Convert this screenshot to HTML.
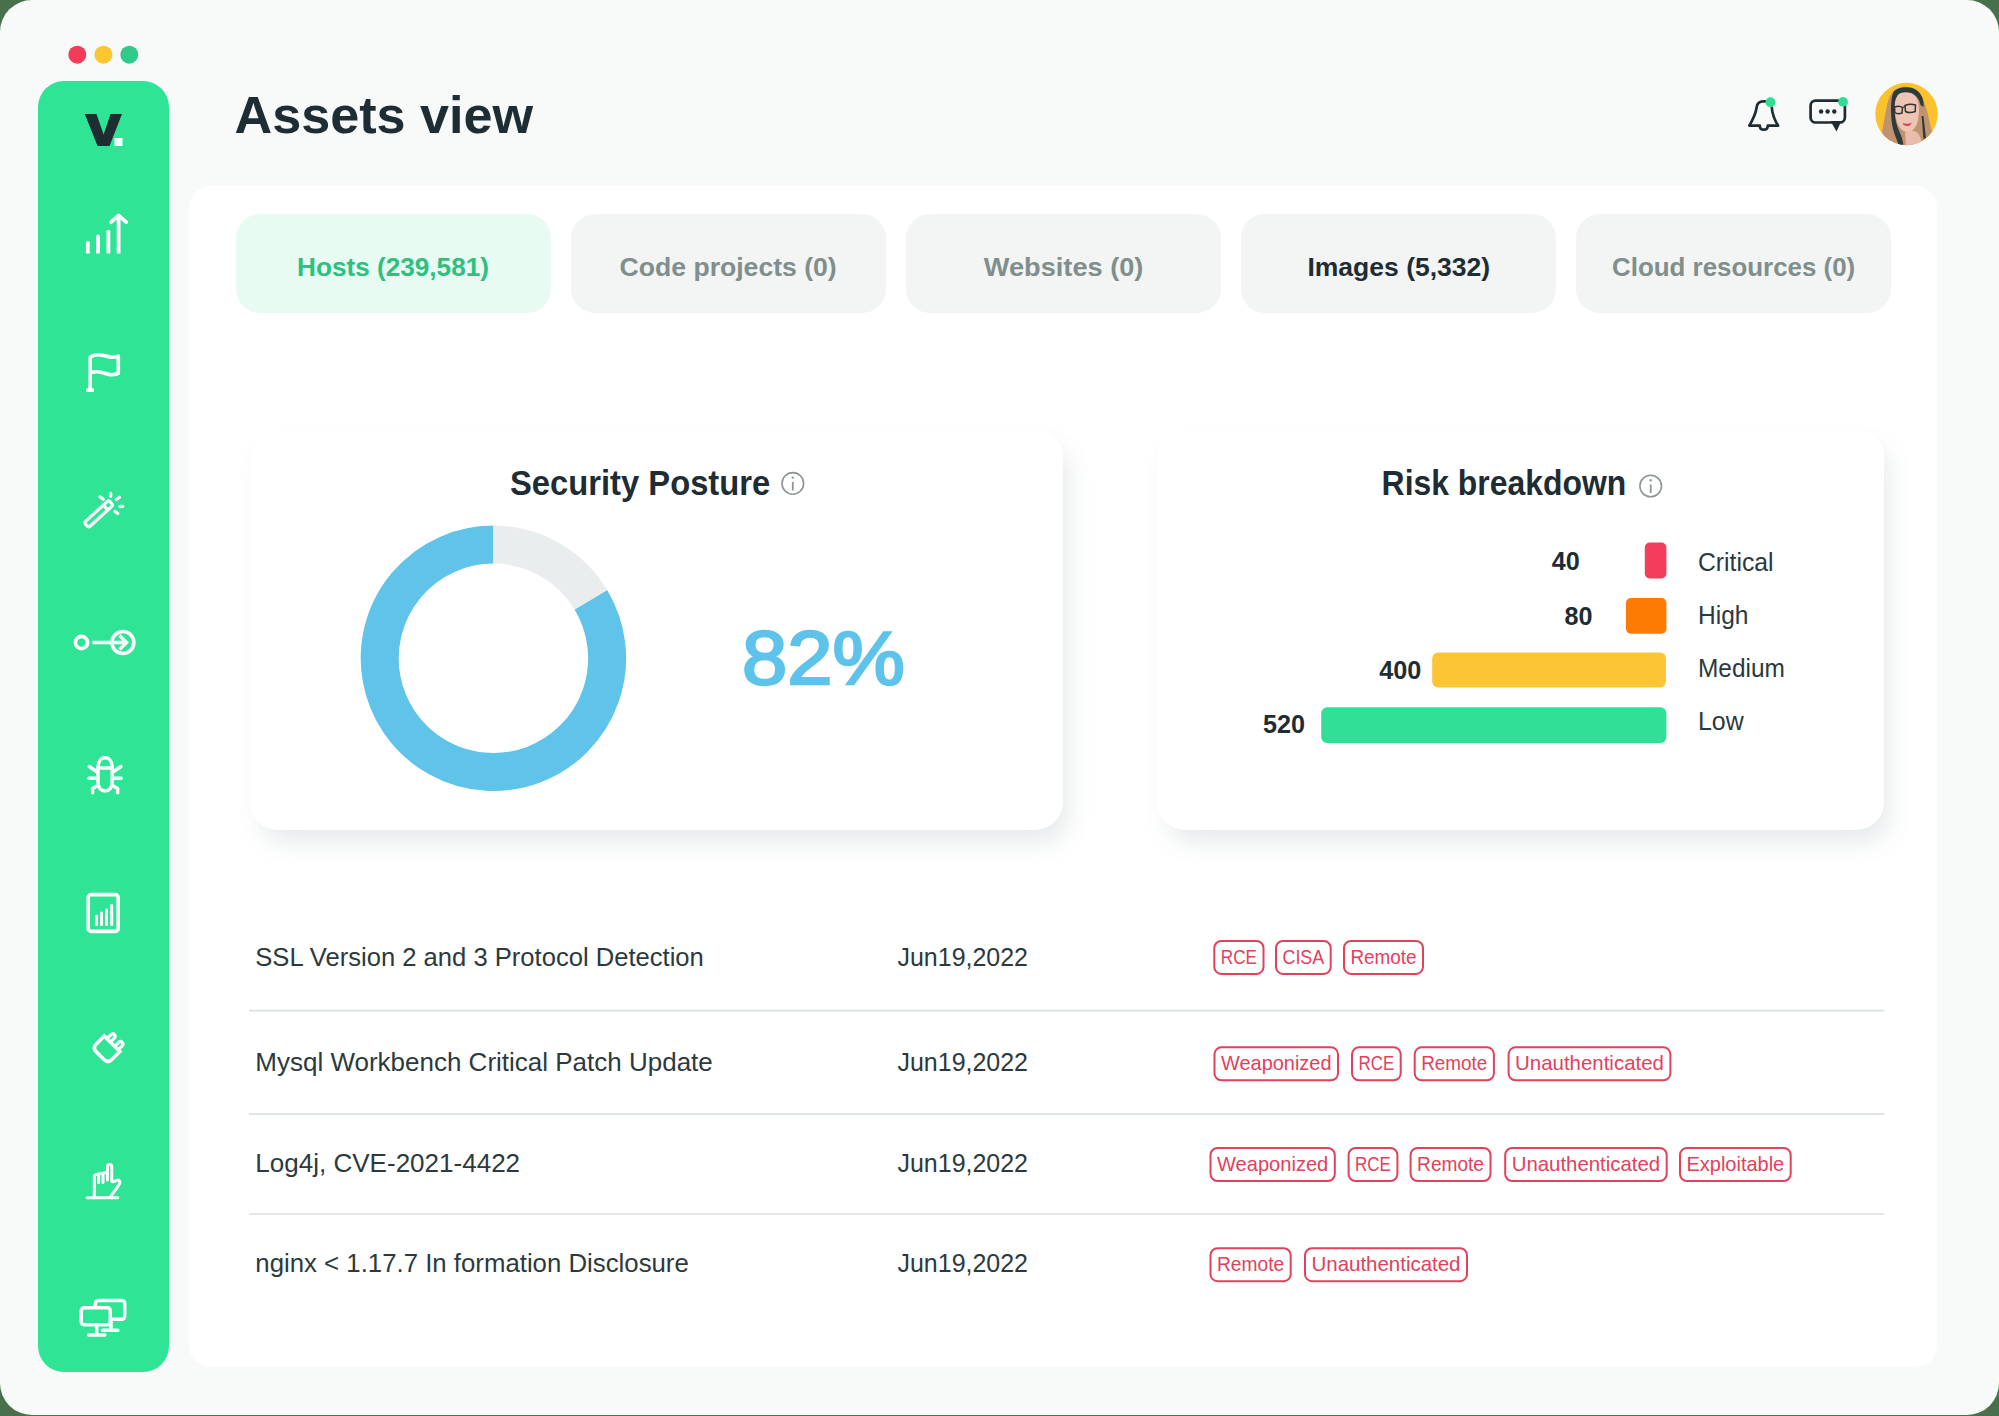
<!DOCTYPE html>
<html><head><meta charset="utf-8">
<style>
html,body{margin:0;padding:0;}
body{width:1999px;height:1416px;background:#48704a;position:relative;overflow:hidden;font-family:"Liberation Sans",sans-serif;}
.frame{position:absolute;left:0;top:0;width:1999px;height:1415px;border-radius:32px;background:#f8f9f9;overflow:hidden;}
.abs{position:absolute;}
.side{left:38px;top:81px;width:131px;height:1291px;border-radius:26px;background:#30e496;}
.panel{left:189px;top:186px;width:1748px;height:1181px;border-radius:22px;background:#ffffff;}
.tab{top:214px;width:315px;height:99px;border-radius:24px;background:#f3f4f4;}
.card{top:429px;height:401px;border-radius:28px;background:#fff;box-shadow:8px 15px 24px -3px rgba(60,90,100,0.13);}
.line{left:249px;width:1636px;height:2px;background:#e1e6e6;}
svg.ov{position:absolute;left:0;top:0;}
</style></head>
<body>
<div class="frame">
  <div class="abs side"></div>
  <div class="abs panel"></div>
  <div class="abs tab" style="left:236px;background:#e8fbf3;"></div>
  <div class="abs tab" style="left:571px;"></div>
  <div class="abs tab" style="left:906px;"></div>
  <div class="abs tab" style="left:1241px;"></div>
  <div class="abs tab" style="left:1576px;"></div>
  <div class="abs card" style="left:250px;width:813px;"></div>
  <div class="abs card" style="left:1157px;width:727px;"></div>
</div>
<svg class="ov" width="1999" height="1416" viewBox="0 0 1999 1416" font-family="Liberation Sans, sans-serif">
  <defs>
    <clipPath id="avc"><circle cx="1906.5" cy="114" r="31.2"/></clipPath>
  </defs>
  <!-- window dots -->
  <circle cx="77.3" cy="54.7" r="9" fill="#f43b5a"/>
  <circle cx="103.4" cy="54.7" r="9" fill="#fcc631"/>
  <circle cx="129.3" cy="54.7" r="9" fill="#2fcb8a"/>

  <!-- logo -->
  <path d="M84.8 114 L96.5 114 L103.6 134.5 L110.5 114 L122 114 L109.5 146 L97.5 146 Z" fill="#1f2d32"/>
  <rect x="114.5" y="138" width="8" height="8" fill="#ffffff"/>

  <!-- sidebar icons -->
  <g fill="none" stroke="#ffffff" stroke-width="3.8" stroke-linecap="round" stroke-linejoin="round">
    <!-- chart up -->
    <path d="M87.8 242.8 V253.6 M98 236.4 V253.6 M108.4 231.6 V253.6 M118.6 216 V253.6" stroke-linecap="butt"/>
    <path d="M87.8 242.8 V243 M98 236.4 V236.6 M108.4 231.6 V231.8"/>
    <path d="M111 222.2 L118.6 215.4 L126.2 222.2"/>
    <!-- flag -->
    <path d="M90.2 390 V357 C94 354.8 98 354.4 102 355.2 C106 356 110 357.4 113 357.2 C115 357 116.5 356.6 118.3 356.2 V373.6 C115.5 374.4 113 375 110 374.6 C106 374 102 372 98 371.8 C95 371.6 92.5 372.2 90.2 372.8" stroke-width="3.6"/>
    <path d="M86.2 390.2 H94" stroke-width="3.6" stroke-linecap="butt"/>
    <!-- wand -->
    <g transform="translate(98.65 513.9) rotate(-42.3)" stroke-width="3.2">
      <rect x="-16.6" y="-3.3" width="33.2" height="6.6" rx="2.2"/>
      <path d="M9.4 -3.1 V3.1"/>
    </g>
    <path d="M110.7 493.4 V496.2 M100 496.8 L103.2 499.3 M116.3 499.5 L119.5 497.3 M120 506.3 H122.8 M114.9 511.5 L117.7 513.5" stroke-width="3.2"/>
    <!-- circle arrow -->
    <circle cx="81.5" cy="642.5" r="6.1" stroke-width="3.6"/>
    <circle cx="122.9" cy="642.5" r="11" stroke-width="3.6"/>
    <path d="M92.5 642.5 H126" stroke-width="3.4" stroke-linecap="butt"/>
    <path d="M119.4 635.4 L126.6 642.5 L119.4 649.6" stroke-width="3.4" stroke-linejoin="miter" stroke-linecap="butt"/>
    <!-- bug -->
    <g stroke-width="3.5">
      <path d="M98 768 V782 C98 787.8 101 791 105.1 791 C109.2 791 112.2 787.8 112.2 782 V768 Z"/>
      <path d="M98 768 C98 761.5 101 757.8 105.1 757.8 C109.2 757.8 112.2 761.5 112.2 768"/>
      <path d="M89.2 766.5 L96.5 771.5 M121 766.5 L113.7 771.5 M89 778.3 H97 M113.2 778.3 H121.2 M96.8 786 L92.6 788.5 V792.8 M113.4 786 L117.6 788.5 V792.8"/>
    </g>
    <!-- report -->
    <rect x="88.2" y="894.6" width="30" height="36.8" rx="2.8" stroke-width="3.6"/>
    <path d="M96.5 915.9 V924.4 M101.5 913.1 V924.4 M106.5 910.1 V924.4 M111.7 905.2 V924.4" stroke-width="3"/>
    <!-- plug -->
    <g transform="translate(106.35 1049.75) rotate(45)" stroke-linejoin="miter">
      <path d="M-11.2 -8.2 H10.8 V3 Q10.8 8.6 5.2 8.6 H-5.6 Q-11.2 8.6 -11.2 3 Z" stroke-width="3.6"/>
      <path d="M-7.4 -8.2 V-14 A2.4 2.4 0 0 1 -2.6 -14 V-8.2 M3.6 -8.2 V-14 A2.4 2.4 0 0 1 8.4 -14 V-8.2" stroke-width="3.2" stroke-linejoin="round" stroke-linecap="butt"/>
      <path d="M-2.6 -8.2 H3.6" stroke="#30e496" stroke-width="0"/>
    </g>
    <!-- hand -->
    <g stroke-width="3">
      <path d="M87.2 1197.8 H117.8"/>
      <path d="M94.3 1197.8 V1176.6 C94.3 1175 95.2 1174.6 96.2 1174.4 L106.5 1172.4"/>
      <path d="M98.6 1175 V1182.6 M103 1173.8 V1182.6 M107.4 1180 V1167 C107.4 1165.6 108.4 1164.6 109.6 1164.6 C110.8 1164.6 111.8 1165.6 111.8 1167 V1181.4 C113.5 1182.6 115 1181.5 116.5 1180.4 C118.5 1179.3 120.6 1181 119.8 1183.2 C118 1186.5 113.8 1192 110.6 1196.5"/>
    </g>
    <!-- monitors -->
    <g stroke-width="3.5">
      <rect x="95.4" y="1300.4" width="29.3" height="18.9" rx="3"/>
      <rect x="81.2" y="1307.8" width="29.1" height="17" rx="3" fill="#30e496"/>
      <path d="M96.7 1326 V1335.1 M88.6 1335.1 H104.8 M111 1321 V1330.2 M102.6 1330.2 H117.9"/>
    </g>
  </g>

  <!-- title -->
  <text x="234.5" y="132.6" font-size="52" font-weight="bold" fill="#1e2d33" textLength="298.5" lengthAdjust="spacingAndGlyphs">Assets view</text>

  <!-- top right icons -->
  <g fill="none" stroke="#1f2d32" stroke-width="2.7" stroke-linejoin="round" stroke-linecap="round">
    <path d="M1766 101.4 H1763.2 C1759.6 101.4 1757.3 103.3 1756.7 107 C1756 112 1754.6 116.8 1749.3 125.7 H1759.8 C1759.8 128.4 1761.5 129.6 1763.8 129.6 C1766.1 129.6 1767.8 128.4 1767.8 125.7 H1778.1 C1773.8 118.8 1772.2 113.5 1771.8 107.5"/>
    <path d="M1831.8 122.5 H1815.6 C1812.8 122.5 1810.6 120.3 1810.6 117.5 V105.6 C1810.6 102.8 1812.8 100.6 1815.6 100.6 H1839.9 C1842.7 100.6 1844.9 102.8 1844.9 105.6 V117.5 C1844.9 120.3 1842.7 122.5 1839.9 122.5"/>
  </g>
  <path d="M1830.6 121.1 L1841.4 121.1 L1836.5 131.6 Z" fill="#1f2d32"/>
  <circle cx="1821.1" cy="111.5" r="2.2" fill="#1f2d32"/>
  <circle cx="1827.6" cy="111.5" r="2.2" fill="#1f2d32"/>
  <circle cx="1834.3" cy="111.5" r="2.2" fill="#1f2d32"/>
  <circle cx="1770.4" cy="102.2" r="4.9" fill="#30de93"/>
  <circle cx="1843" cy="101.9" r="4.9" fill="#30de93"/>

  <!-- avatar -->
  <g clip-path="url(#avc)">
    <rect x="1870" y="78" width="75" height="72" fill="#fbc22e"/>
    <path d="M1892 93 C1896 88 1901 86.5 1906 86.8 C1913 87.2 1919 91 1922 97 C1925 103 1927 110 1928.5 117 C1930 124 1931.5 130 1933 136 L1930 150 L1880 150 C1880.5 142 1881.5 134 1883 126 C1884.5 118 1886 110 1887.5 103 C1888.5 99 1890 95.5 1892 93 Z" fill="#bf936d"/>
    <path d="M1897 94 C1900 91.5 1905 91 1909 92 C1914 93.5 1917.5 98 1918.5 104 C1919.5 110 1919 118 1917 124 C1915 129 1911.5 132 1907.5 132 C1903 132 1899 128 1897 122 C1895 116 1894.5 108 1895 101 C1895.3 98 1896 95.5 1897 94 Z" fill="#eec4b3"/>
    <path d="M1905 132 C1910 131 1915 130 1918 133 C1921 137 1922 143 1922 150 L1906 150 C1906 144 1905.5 138 1905 132 Z" fill="#e9bcae"/>
    <path d="M1894 91 C1898 87.5 1904 86.5 1910 87.5 C1916 88.5 1920.5 92.5 1922.5 98 C1923.5 101 1923.8 104 1923.5 107 L1920.5 105 C1919.5 99.5 1916.5 95 1911 93 C1906 91.5 1900 92 1897.5 95.5 C1895 99 1894.5 104 1894.6 110 C1894.8 118 1896.5 126 1900 133 C1902 137 1903.5 143 1904 150 L1899.5 150 C1898.5 144 1896.5 139 1894.5 134 C1892 127 1891 119 1891 110 C1891 102 1891.8 95 1894 91 Z" fill="#2d3b3d"/>
    <path d="M1921.5 116 C1922.5 123 1922.5 131 1923.5 139 L1926 138 C1925 131 1924.5 123 1923.5 116 Z" fill="#2d3b3d"/>
    <path d="M1894.5 107 C1897 106 1900.5 106 1902.5 107.5 L1902 113 C1899.5 114 1896.5 113.8 1894.8 112.5 Z M1905 105.5 C1908.5 104 1912.5 104 1915.5 105 L1915.2 111.5 C1912 112.8 1908 112.8 1905.5 111.5 Z" fill="none" stroke="#2f3434" stroke-width="1.5"/>
    <path d="M1902.5 107.5 L1905 106.5" stroke="#2f3434" stroke-width="1.3"/>
    <path d="M1902.8 123 C1905.5 124.2 1909 124 1911.8 122.4 C1910.8 126 1906.5 127 1903.5 125 Z" fill="#c94b5b"/>
  </g>

  <!-- tabs text -->
  <g font-size="26" font-weight="bold">
    <text x="297" y="275.7" fill="#2ec07f" textLength="192" lengthAdjust="spacingAndGlyphs">Hosts (239,581)</text>
    <text x="619.6" y="275.7" fill="#808e8c" textLength="217.1" lengthAdjust="spacingAndGlyphs">Code projects (0)</text>
    <text x="983.8" y="275.7" fill="#808e8c" textLength="159.6" lengthAdjust="spacingAndGlyphs">Websites (0)</text>
    <text x="1307.4" y="275.7" fill="#1e2d33" textLength="182.8" lengthAdjust="spacingAndGlyphs">Images (5,332)</text>
    <text x="1612" y="275.7" fill="#808e8c" textLength="243.2" lengthAdjust="spacingAndGlyphs">Cloud resources (0)</text>
  </g>

  <!-- security posture -->
  <text x="510" y="494.5" font-size="35" font-weight="bold" fill="#1e2d33" textLength="260.2" lengthAdjust="spacingAndGlyphs">Security Posture</text>
  <g fill="none" stroke="#8c9696" stroke-width="1.6">
    <circle cx="792.8" cy="483.4" r="10.8"/>
    <circle cx="1650.7" cy="486" r="10.8"/>
  </g>
  <g stroke="#8c9696" stroke-width="1.8">
    <path d="M792.8 482 V490.5 M1650.7 484.6 V493.1"/>
  </g>
  <circle cx="792.8" cy="477.6" r="1.2" fill="#8c9696"/>
  <circle cx="1650.7" cy="480.2" r="1.2" fill="#8c9696"/>

  <path d="M590.86 599.74 A113.7 113.7 0 1 1 493.4 544.6" fill="none" stroke="#60c3ea" stroke-width="38"/>
  <path d="M493.4 544.6 A113.7 113.7 0 0 1 590.86 599.74" fill="none" stroke="#e9eded" stroke-width="38"/>
  <text x="742" y="684.4" font-size="76" fill="#5ec3ea" stroke="#5ec3ea" stroke-width="2.4" textLength="163" lengthAdjust="spacingAndGlyphs">82%</text>

  <!-- risk breakdown -->
  <text x="1381.6" y="495" font-size="35" font-weight="bold" fill="#1e2d33" textLength="244.6" lengthAdjust="spacingAndGlyphs">Risk breakdown</text>
  <rect x="1644.8" y="542.6" width="21.6" height="35.9" rx="5" fill="#f43d5c"/>
  <rect x="1626" y="598" width="40.4" height="35.7" rx="5" fill="#fd7b02"/>
  <rect x="1432.2" y="652.4" width="233.8" height="35" rx="6" fill="#fcc535"/>
  <rect x="1321.2" y="707.3" width="345.2" height="35.6" rx="6" fill="#31e096"/>
  <g font-size="25.5" font-weight="bold" fill="#1f2d32">
    <text x="1551.8" y="570" textLength="28" lengthAdjust="spacingAndGlyphs">40</text>
    <text x="1564.4" y="624.7" textLength="28" lengthAdjust="spacingAndGlyphs">80</text>
    <text x="1379.2" y="678.5" textLength="42" lengthAdjust="spacingAndGlyphs">400</text>
    <text x="1263" y="733" textLength="42" lengthAdjust="spacingAndGlyphs">520</text>
  </g>
  <g font-size="26" fill="#2a393d">
    <text x="1698" y="570.6" textLength="75.6" lengthAdjust="spacingAndGlyphs">Critical</text>
    <text x="1698" y="623.8" textLength="50.4" lengthAdjust="spacingAndGlyphs">High</text>
    <text x="1698" y="677" textLength="86.9" lengthAdjust="spacingAndGlyphs">Medium</text>
    <text x="1698" y="730.3" textLength="45.7" lengthAdjust="spacingAndGlyphs">Low</text>
  </g>

  <!-- table -->
  <g stroke="#dbe1e1" stroke-width="1.7">
    <path d="M249 1010.6 H1884.5 M249 1114.2 H1884.5 M249 1214 H1884.5"/>
  </g>
  <g font-size="26.5" fill="#2c3a3e">
    <text x="255.3" y="965.5" textLength="448.5" lengthAdjust="spacingAndGlyphs">SSL Version 2 and 3 Protocol Detection</text>
    <text x="897.5" y="965.5" textLength="130.5" lengthAdjust="spacingAndGlyphs">Jun19,2022</text>
    <text x="255.3" y="1071.3" textLength="457.5" lengthAdjust="spacingAndGlyphs">Mysql Workbench Critical Patch Update</text>
    <text x="897.5" y="1071.3" textLength="130.5" lengthAdjust="spacingAndGlyphs">Jun19,2022</text>
    <text x="255.3" y="1171.8" textLength="264.8" lengthAdjust="spacingAndGlyphs">Log4j, CVE-2021-4422</text>
    <text x="897.5" y="1171.8" textLength="130.5" lengthAdjust="spacingAndGlyphs">Jun19,2022</text>
    <text x="255.3" y="1271.8" textLength="433.5" lengthAdjust="spacingAndGlyphs">nginx &lt; 1.17.7 In formation Disclosure</text>
    <text x="897.5" y="1271.8" textLength="130.5" lengthAdjust="spacingAndGlyphs">Jun19,2022</text>
  </g>
  <g font-size="21" fill="#e3405c">
    <rect x="1214.3" y="940.9" width="49.2" height="33" rx="7" fill="none" stroke="#e3405c" stroke-width="2"/>
    <text x="1220.8" y="963.6" textLength="36.2" lengthAdjust="spacingAndGlyphs">RCE</text>
    <rect x="1276.0" y="940.9" width="54.7" height="33" rx="7" fill="none" stroke="#e3405c" stroke-width="2"/>
    <text x="1282.5" y="963.6" textLength="41.7" lengthAdjust="spacingAndGlyphs">CISA</text>
    <rect x="1344.0" y="940.9" width="79.0" height="33" rx="7" fill="none" stroke="#e3405c" stroke-width="2"/>
    <text x="1350.5" y="963.6" textLength="66.0" lengthAdjust="spacingAndGlyphs">Remote</text>
    <rect x="1214.5" y="1047.3" width="123.5" height="33" rx="7" fill="none" stroke="#e3405c" stroke-width="2"/>
    <text x="1221.0" y="1070.0" textLength="110.5" lengthAdjust="spacingAndGlyphs">Weaponized</text>
    <rect x="1352.0" y="1047.3" width="48.7" height="33" rx="7" fill="none" stroke="#e3405c" stroke-width="2"/>
    <text x="1358.5" y="1070.0" textLength="35.7" lengthAdjust="spacingAndGlyphs">RCE</text>
    <rect x="1414.7" y="1047.3" width="79.2" height="33" rx="7" fill="none" stroke="#e3405c" stroke-width="2"/>
    <text x="1421.2" y="1070.0" textLength="66.2" lengthAdjust="spacingAndGlyphs">Remote</text>
    <rect x="1508.6" y="1047.3" width="161.8" height="33" rx="7" fill="none" stroke="#e3405c" stroke-width="2"/>
    <text x="1515.1" y="1070.0" textLength="148.8" lengthAdjust="spacingAndGlyphs">Unauthenticated</text>
    <rect x="1210.5" y="1148.0" width="124.3" height="33" rx="7" fill="none" stroke="#e3405c" stroke-width="2"/>
    <text x="1217.0" y="1170.6" textLength="111.3" lengthAdjust="spacingAndGlyphs">Weaponized</text>
    <rect x="1348.6" y="1148.0" width="48.8" height="33" rx="7" fill="none" stroke="#e3405c" stroke-width="2"/>
    <text x="1355.1" y="1170.6" textLength="35.8" lengthAdjust="spacingAndGlyphs">RCE</text>
    <rect x="1410.6" y="1148.0" width="79.9" height="33" rx="7" fill="none" stroke="#e3405c" stroke-width="2"/>
    <text x="1417.1" y="1170.6" textLength="66.9" lengthAdjust="spacingAndGlyphs">Remote</text>
    <rect x="1505.2" y="1148.0" width="161.5" height="33" rx="7" fill="none" stroke="#e3405c" stroke-width="2"/>
    <text x="1511.7" y="1170.6" textLength="148.5" lengthAdjust="spacingAndGlyphs">Unauthenticated</text>
    <rect x="1680.0" y="1148.0" width="110.7" height="33" rx="7" fill="none" stroke="#e3405c" stroke-width="2"/>
    <text x="1686.5" y="1170.6" textLength="97.7" lengthAdjust="spacingAndGlyphs">Exploitable</text>
    <rect x="1210.5" y="1248.2" width="80.2" height="33" rx="7" fill="none" stroke="#e3405c" stroke-width="2"/>
    <text x="1217.0" y="1270.9" textLength="67.2" lengthAdjust="spacingAndGlyphs">Remote</text>
    <rect x="1305.0" y="1248.2" width="162.0" height="33" rx="7" fill="none" stroke="#e3405c" stroke-width="2"/>
    <text x="1311.5" y="1270.9" textLength="149.0" lengthAdjust="spacingAndGlyphs">Unauthenticated</text>
  </g>
</svg>
</body></html>
